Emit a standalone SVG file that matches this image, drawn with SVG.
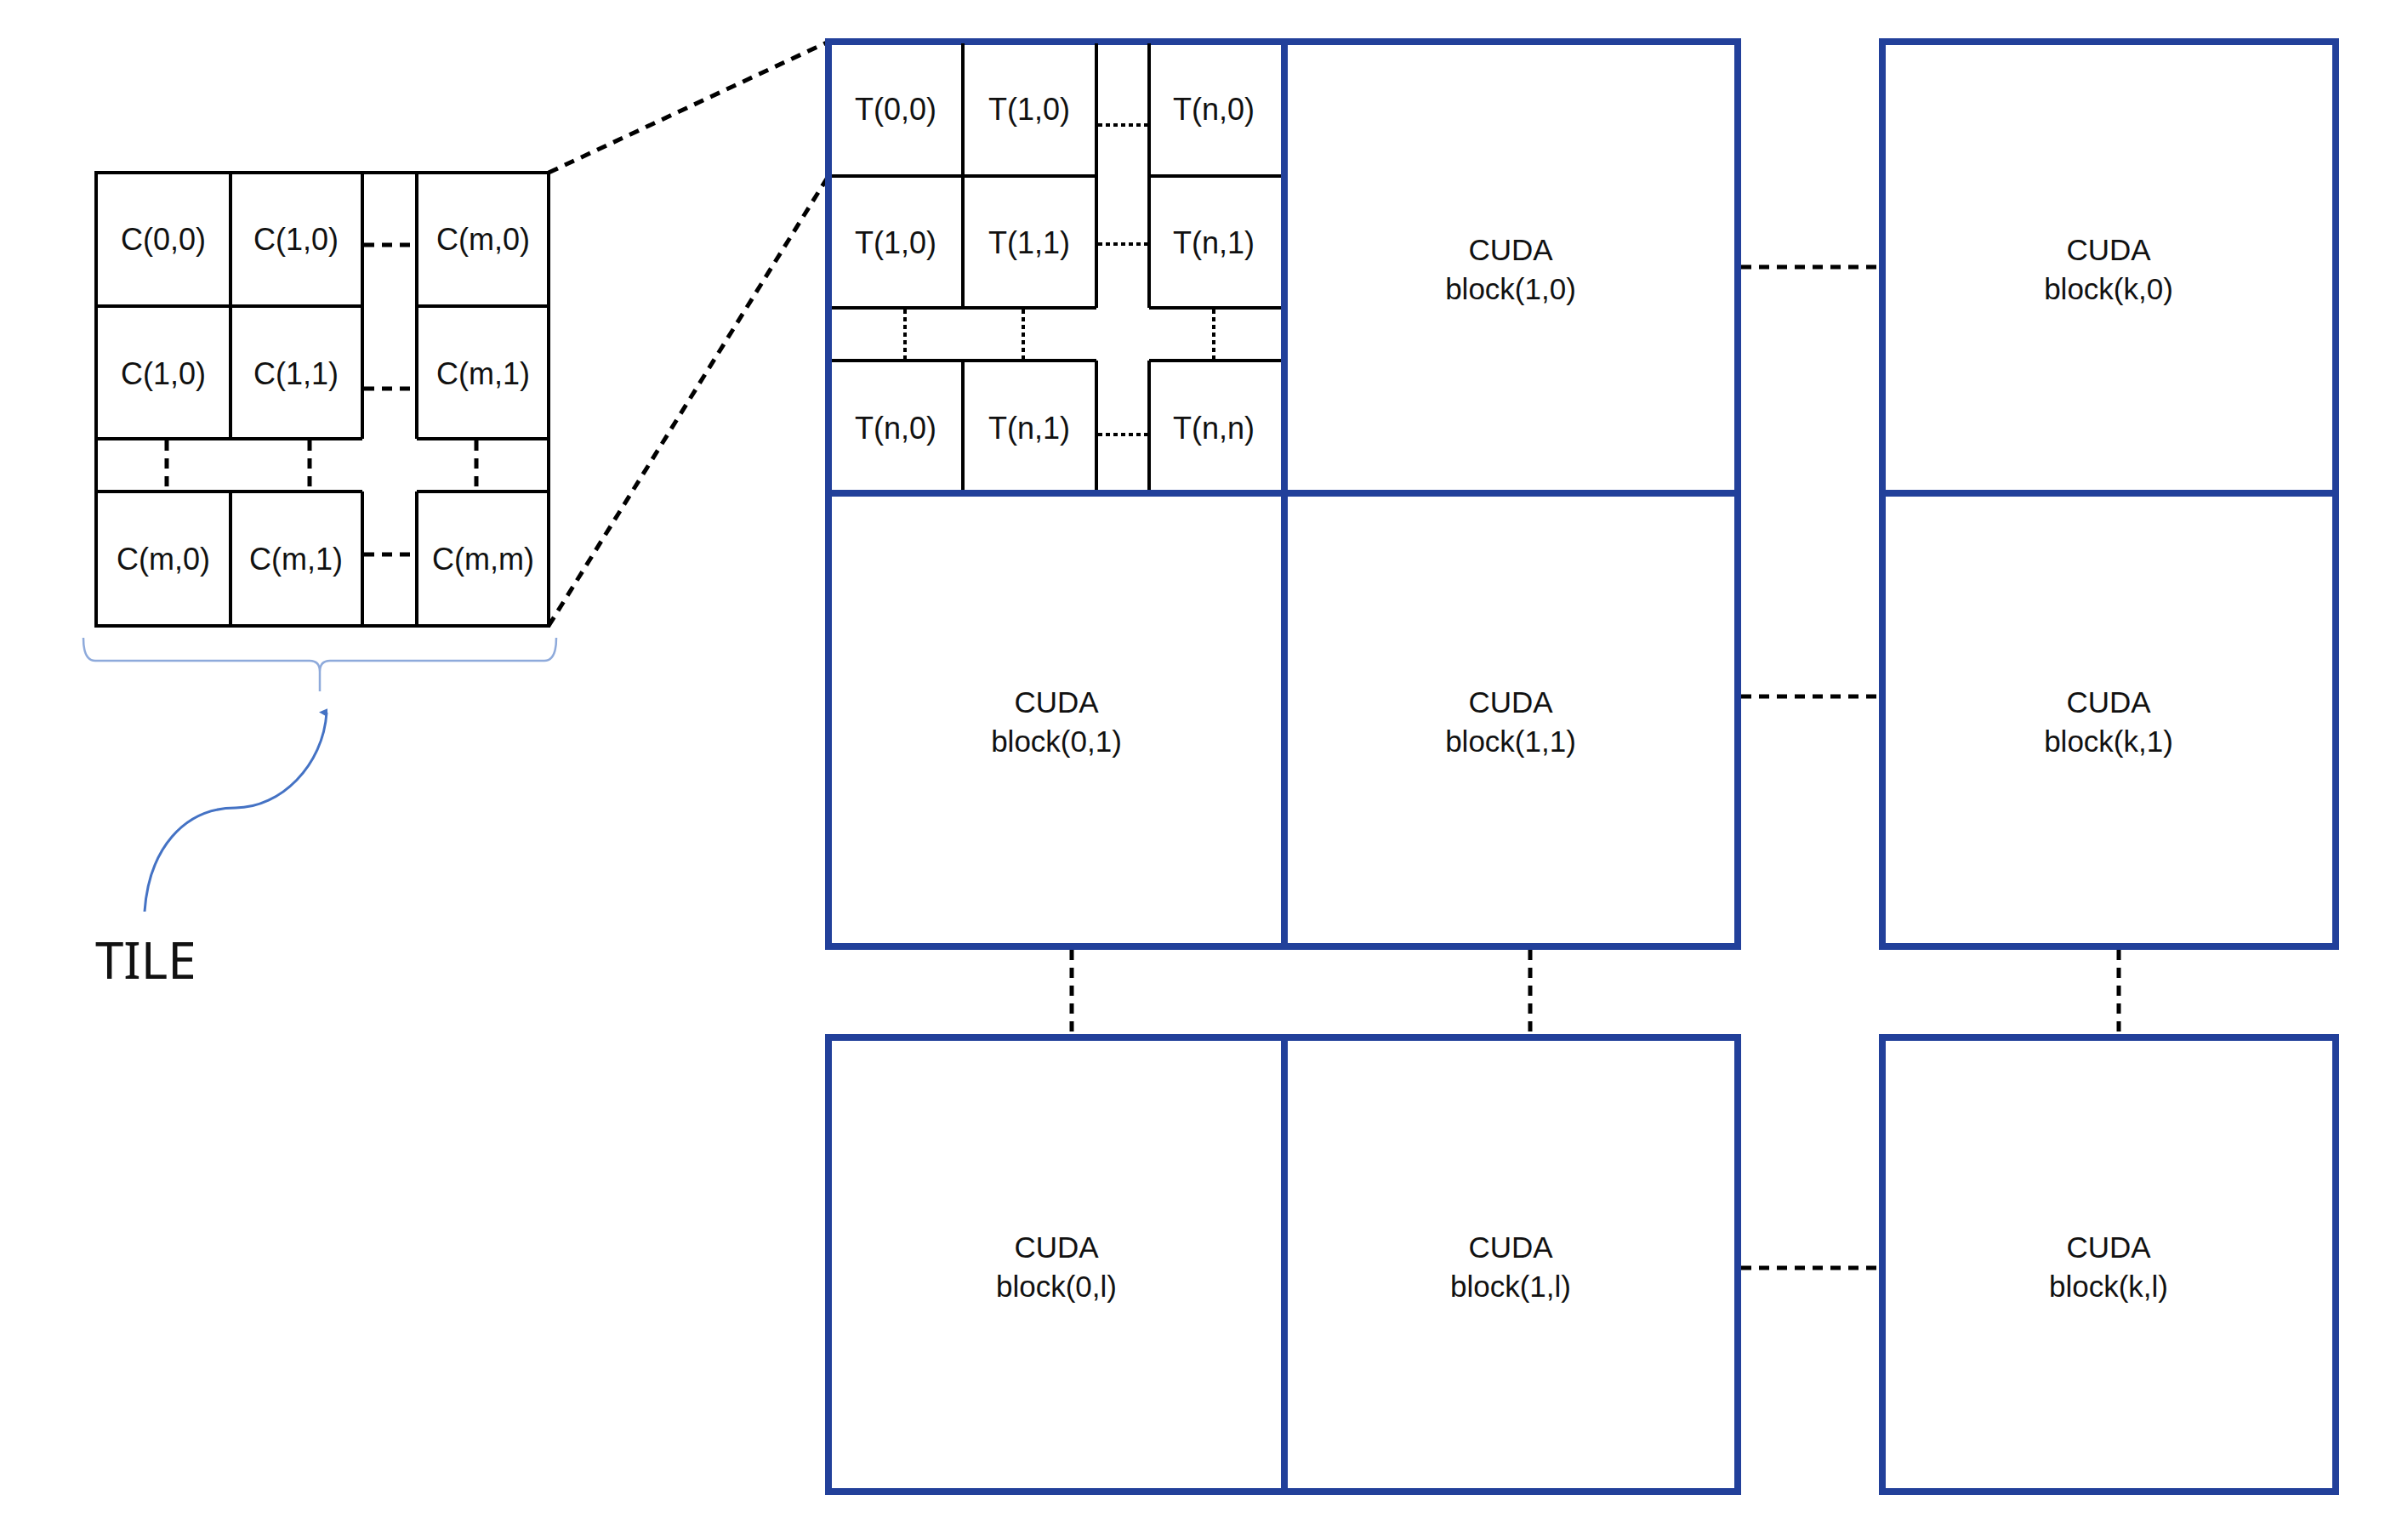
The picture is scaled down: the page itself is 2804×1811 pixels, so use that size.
<svg xmlns="http://www.w3.org/2000/svg" width="2804" height="1811" viewBox="0 0 2804 1811">
<style>
.k{fill:none;stroke:#000;stroke-width:4}
.b{fill:#fff;stroke:#22409a;stroke-width:8}
.d{fill:none;stroke:#000;stroke-width:5;stroke-dasharray:12 9}
.f{fill:none;stroke:#000;stroke-width:4;stroke-dasharray:5 4}
.t{font-family:"Liberation Sans",Arial,sans-serif;font-size:36px;text-anchor:middle;fill:#111}
.c{font-family:"Liberation Sans",Arial,sans-serif;font-size:35px;text-anchor:middle;fill:#111}
</style>
<defs><marker id="ah" markerWidth="10" markerHeight="10" refX="5" refY="9" orient="auto" markerUnits="userSpaceOnUse" viewBox="0 0 10 10"><path d="M0,10 L5,0 L10,10 Z" fill="#4472c4"/></marker></defs>
<rect width="2804" height="1811" fill="#fff"/>
<g id="connectors">
<line class="d" x1="645" y1="203" x2="974" y2="49"/>
<line class="d" x1="645" y1="736" x2="974" y2="207"/>
<line class="d" x1="2047" y1="314" x2="2209" y2="314"/>
<line class="d" x1="2047" y1="819" x2="2209" y2="819"/>
<line class="d" x1="2047" y1="1491" x2="2209" y2="1491"/>
<line class="d" x1="1260" y1="1117" x2="1260" y2="1216"/>
<line class="d" x1="1799" y1="1117" x2="1799" y2="1216"/>
<line class="d" x1="2491" y1="1117" x2="2491" y2="1216"/>
</g>
<g id="tile">
<rect class="k" x="113" y="203" width="532" height="533"/>
<path class="k" d="M271,203V516M271,578V736M426,203V516M426,578V736M490,203V516M490,578V736M113,360H426M490,360H645M113,516H426M490,516H645M113,578H426M490,578H645"/>
<path class="d" d="M428,288H488M428,457H488M428,652H488M196,518V576M364,518V576M560,518V576"/>
<text class="t" x="192" y="294">C(0,0)</text><text class="t" x="348" y="294">C(1,0)</text><text class="t" x="568" y="294">C(m,0)</text>
<text class="t" x="192" y="452">C(1,0)</text><text class="t" x="348" y="452">C(1,1)</text><text class="t" x="568" y="452">C(m,1)</text>
<text class="t" x="192" y="670">C(m,0)</text><text class="t" x="348" y="670">C(m,1)</text><text class="t" x="568" y="670">C(m,m)</text>
</g>
<g id="tile-label">
<path d="M98,750 Q98,777 112,777 H364 Q376,777 376,790 V813 M376,790 Q376,777 388,777 H640 Q654,777 654,750" fill="none" stroke="#8eaadb" stroke-width="2.5"/>
<path d="M170,1072 C175,1000 215,950 277,950 C330,950 380,900 384,838" fill="none" stroke="#4472c4" stroke-width="3" marker-end="url(#ah)"/>
<text x="112" y="1151" font-family="'Noto Sans','Open Sans',sans-serif" font-size="60" fill="#111">TILE</text>
</g>
<g id="block00">
<rect class="b" x="974" y="49" width="536" height="531"/>
<path class="k" d="M1132,51V362M1132,424V576M1289,51V362M1289,424V576M1351,51V362M1351,424V576M978,207H1289M1351,207H1506M978,362H1289M1351,362H1506M978,424H1289M1351,424H1506"/>
<path class="f" d="M1291,147H1349M1291,287H1349M1291,511H1349M1064,364V422M1203,364V422M1427,364V422"/>
<text class="t" x="1053" y="141">T(0,0)</text><text class="t" x="1210" y="141">T(1,0)</text><text class="t" x="1427" y="141">T(n,0)</text>
<text class="t" x="1053" y="298">T(1,0)</text><text class="t" x="1210" y="298">T(1,1)</text><text class="t" x="1427" y="298">T(n,1)</text>
<text class="t" x="1053" y="516">T(n,0)</text><text class="t" x="1210" y="516">T(n,1)</text><text class="t" x="1427" y="516">T(n,n)</text>
</g>
<g id="block10"><rect class="b" x="1510" y="49" width="533" height="531"/><text class="c" x="1776" y="306">CUDA</text><text class="c" x="1776" y="352">block(1,0)</text></g>
<g id="blockk0"><rect class="b" x="2213" y="49" width="533" height="531"/><text class="c" x="2479" y="306">CUDA</text><text class="c" x="2479" y="352">block(k,0)</text></g>
<g id="block01"><rect class="b" x="974" y="580" width="536" height="533"/><text class="c" x="1242" y="838">CUDA</text><text class="c" x="1242" y="884">block(0,1)</text></g>
<g id="block11"><rect class="b" x="1510" y="580" width="533" height="533"/><text class="c" x="1776" y="838">CUDA</text><text class="c" x="1776" y="884">block(1,1)</text></g>
<g id="blockk1"><rect class="b" x="2213" y="580" width="533" height="533"/><text class="c" x="2479" y="838">CUDA</text><text class="c" x="2479" y="884">block(k,1)</text></g>
<g id="block0l"><rect class="b" x="974" y="1220" width="536" height="534"/><text class="c" x="1242" y="1479">CUDA</text><text class="c" x="1242" y="1525">block(0,l)</text></g>
<g id="block1l"><rect class="b" x="1510" y="1220" width="533" height="534"/><text class="c" x="1776" y="1479">CUDA</text><text class="c" x="1776" y="1525">block(1,l)</text></g>
<g id="blockkl"><rect class="b" x="2213" y="1220" width="533" height="534"/><text class="c" x="2479" y="1479">CUDA</text><text class="c" x="2479" y="1525">block(k,l)</text></g>
</svg>
